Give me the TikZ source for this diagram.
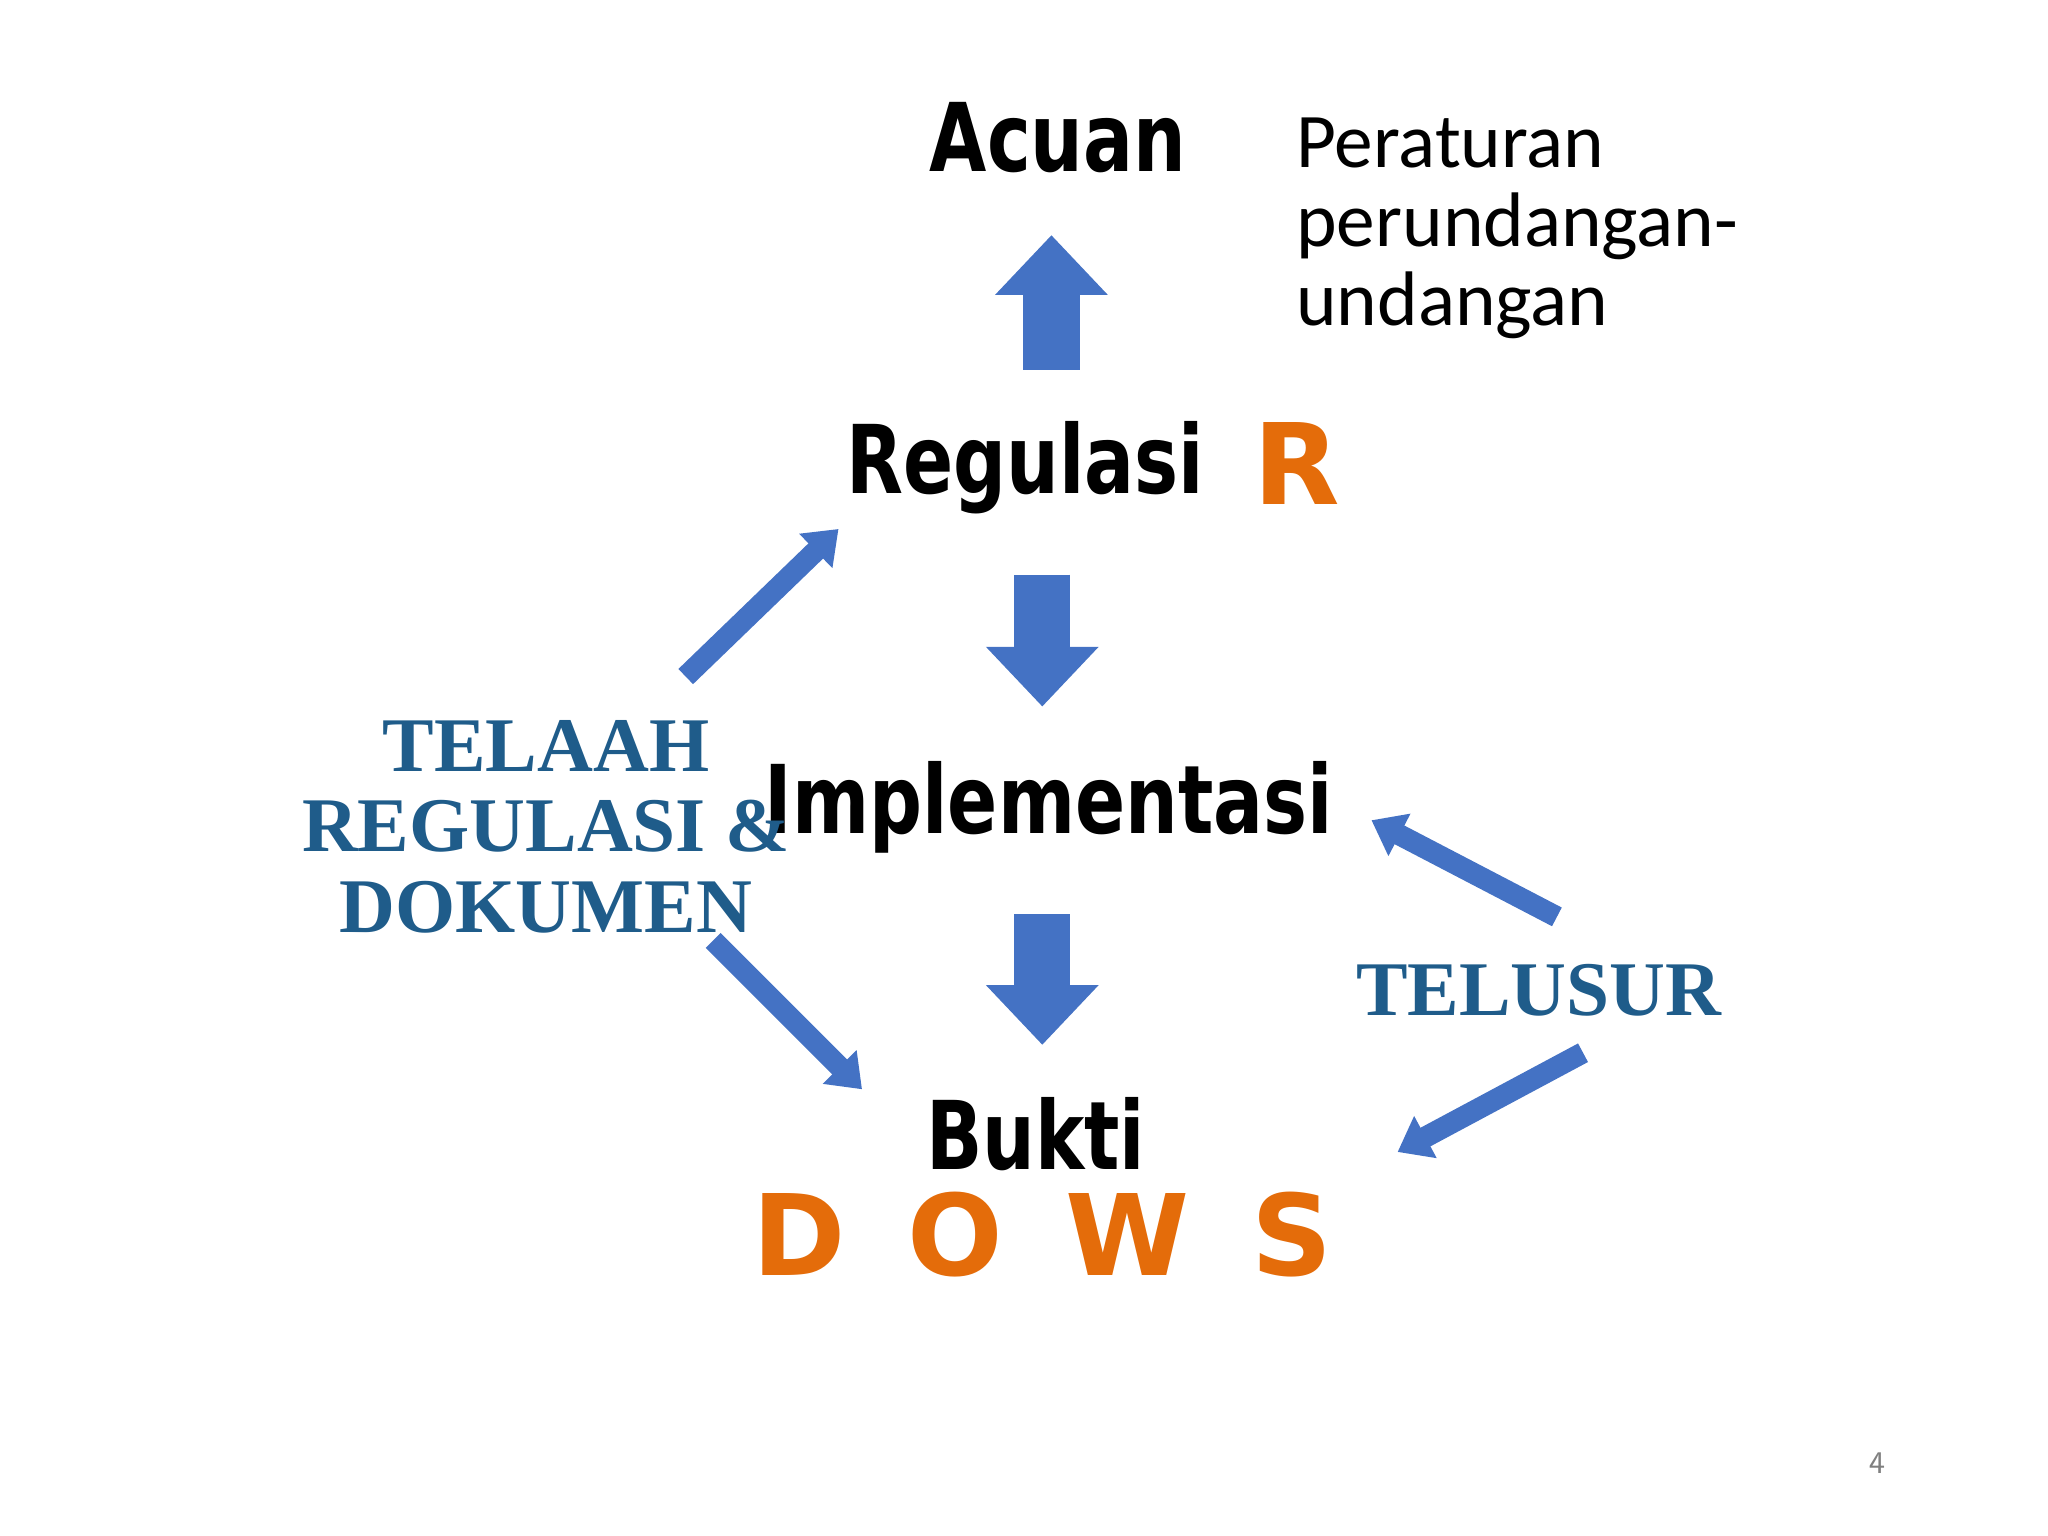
\documentclass[tikz,border=0pt]{standalone}
\usepackage{fontspec}
\setmainfont{Liberation Serif}
\newfontfamily\carl{Carlito}
\newfontfamily\heavy{DejaVu Sans}
\usetikzlibrary{arrows.meta}
\definecolor{arrblue}{HTML}{4472C4}
\definecolor{dorange}{HTML}{E46C0A}
\definecolor{teal2}{HTML}{1F5C8A}
\tikzset{
  big/.style={draw=arrblue,line width=16pt,-{Triangle[length=17pt,width=31pt]}},
  thin/.style={draw=arrblue,line width=6pt,-{Triangle[length=9pt,width=13pt]}},
  title/.style={font=\heavy\bfseries\fontsize{27}{30}\selectfont,xscale=0.78,text=black},
  teal/.style={font=\bfseries\fontsize{22}{23}\selectfont,text=teal2,align=center},
  orng/.style={font=\heavy\bfseries\fontsize{32}{34}\selectfont,text=dorange}
}
\begin{document}
\begin{tikzpicture}[x=0.01306cm,y=-0.01306cm]
\useasboundingbox (0,0) rectangle (1568,1176);
\node[title] (acuan) at (810,105) {Acuan};
\node[font=\carl\fontsize{22}{22.5}\selectfont,align=left,anchor=west] (per) at (983,175) {Peraturan\\perundangan-\\undangan};
\node[title] (reg) at (785,358) {Regulasi};
\node[orng] (r) at (993,355) {R};
\node[title] (imp) at (803,618) {Implementasi};
\node[title] (bukti) at (793,868) {Bukti};
\node[orng] (dows) at (798,945) {D\hspace{0.55em}O\hspace{0.55em}W\hspace{0.55em}S};
\node[teal] (telaah) at (418,633) {TELAAH\\REGULASI \&\\DOKUMEN};
\node[teal] (telusur) at (1178,758) {TELUSUR};
\node[text=gray,font=\sffamily\fontsize{9}{10}\selectfont] (pg) at (1437,1120) {4};
\coordinate (a1s) at (805,283); \coordinate (a1e) at (805,180);
\coordinate (a2s) at (798,440); \coordinate (a2e) at (798,541);
\coordinate (a3s) at (798,700); \coordinate (a3e) at (798,800);
\coordinate (d1s) at (525,518); \coordinate (d1e) at (642,405);
\coordinate (d2s) at (546,720); \coordinate (d2e) at (660,834);
\coordinate (d3s) at (1192,702); \coordinate (d3e) at (1050,628);
\coordinate (d4s) at (1212,806); \coordinate (d4e) at (1070,882);
\draw[big] (a1s) -- (a1e);
\draw[big] (a2s) -- (a2e);
\draw[big] (a3s) -- (a3e);
\draw[thin] (d1s) -- (d1e);
\draw[thin] (d2s) -- (d2e);
\draw[thin] (d3s) -- (d3e);
\draw[thin] (d4s) -- (d4e);
\end{tikzpicture}
\end{document}
